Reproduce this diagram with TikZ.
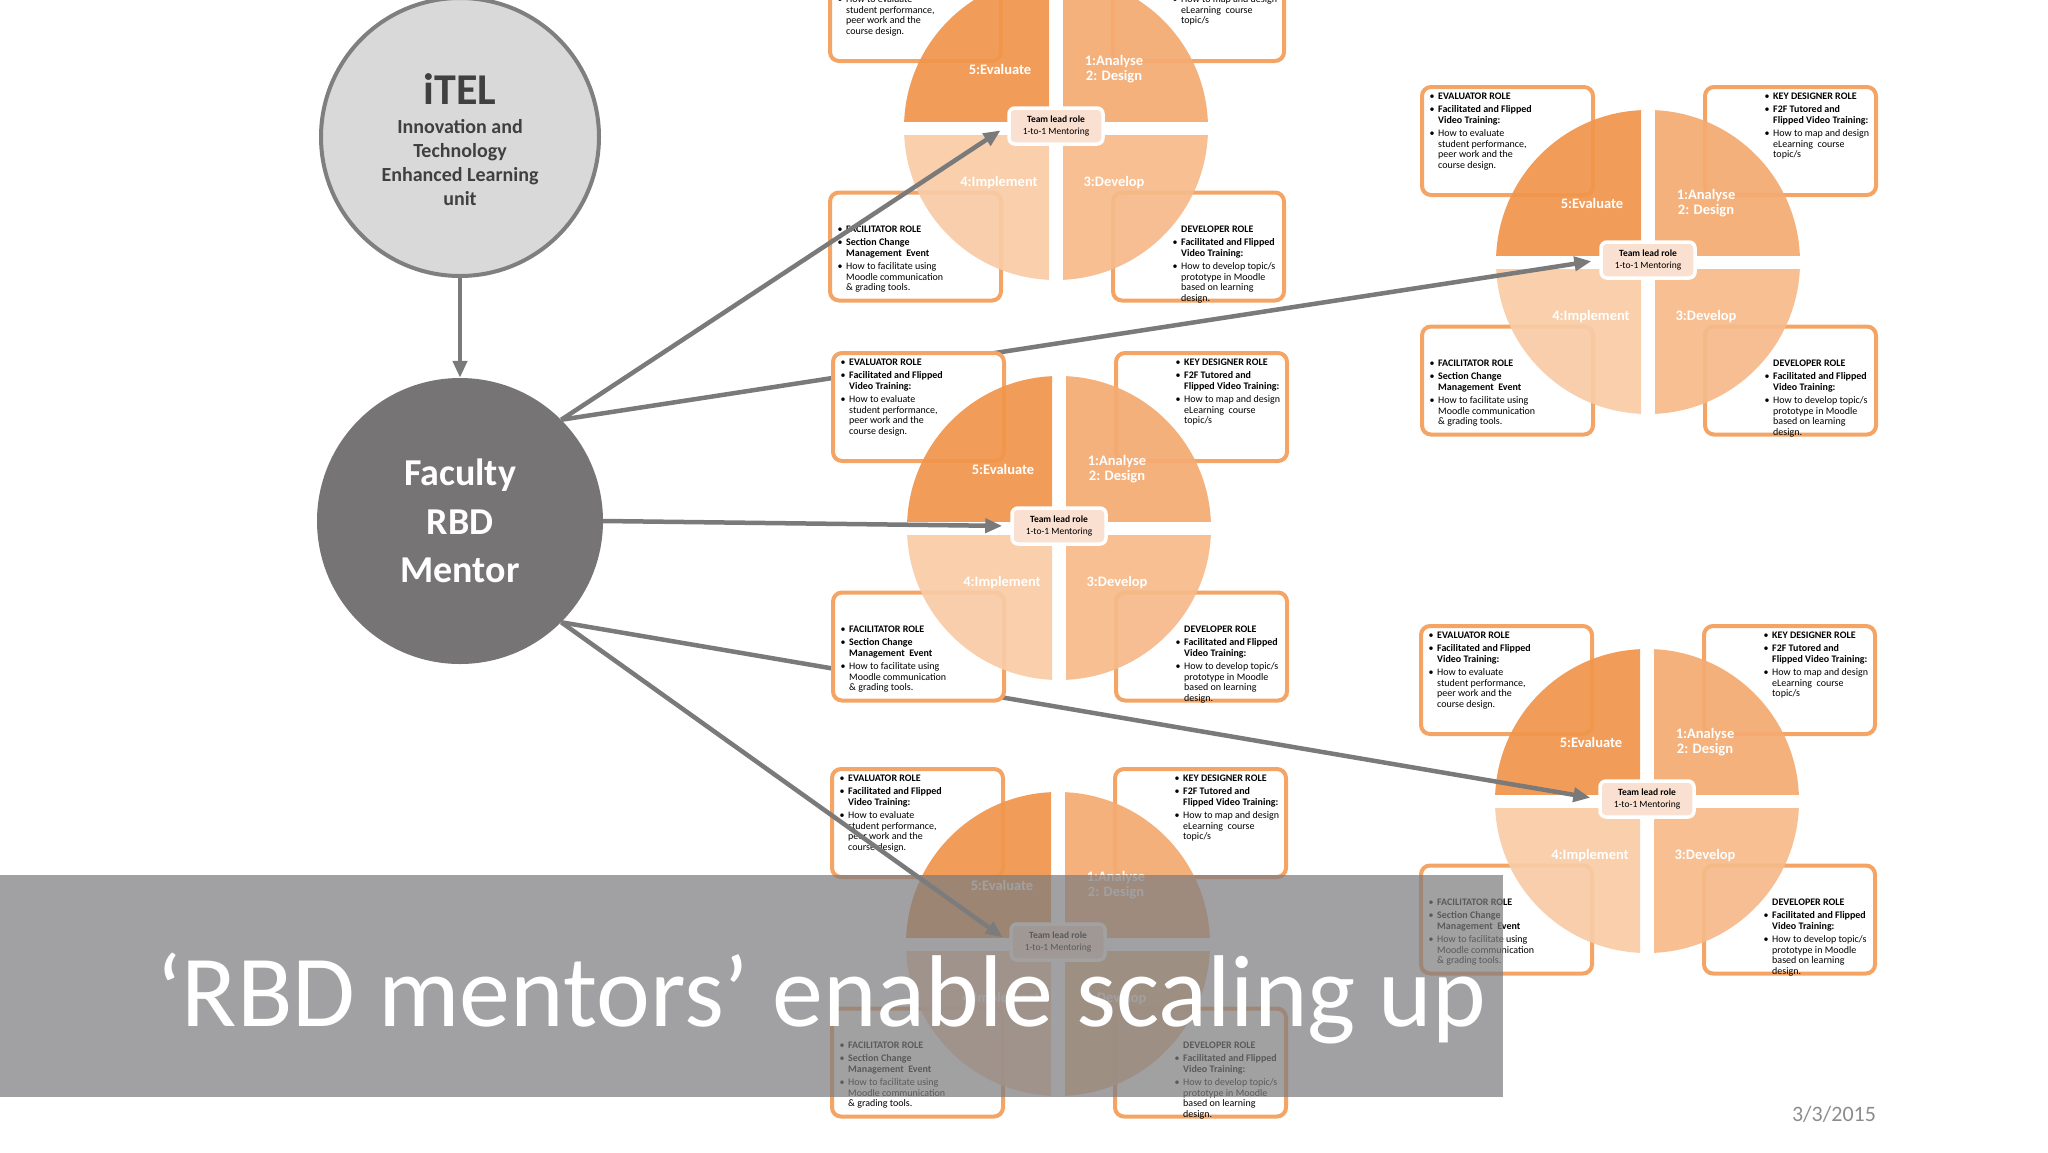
\documentclass[tikz,border=0pt]{standalone}
\usepackage{fontspec}
\setmainfont{Carlito}
\usepackage{tikz}
\usetikzlibrary{arrows.meta}
\definecolor{itelgrey}{RGB}{217,217,217}
\definecolor{ringgrey}{RGB}{127,127,127}
\definecolor{facgrey}{RGB}{118,116,116}
\definecolor{inkgrey}{RGB}{64,64,64}
\definecolor{linkgrey}{RGB}{122,122,122}
\definecolor{roleorange}{RGB}{244,164,100}
\definecolor{evalorange}{RGB}{241,149,76}
\definecolor{designorange}{RGB}{244,171,114}
\definecolor{devorange}{RGB}{246,186,138}
\definecolor{implorange}{RGB}{249,203,166}
\definecolor{hubpeach}{RGB}{250,224,208}
\definecolor{bargrey}{RGB}{125,125,127}
\definecolor{dategrey}{RGB}{140,140,140}
\tikzset{%
    itelcircle/.style={circle, draw=ringgrey, line width=4pt, fill=itelgrey, minimum size=278pt, inner sep=0pt},
    itelname/.style={text=inkgrey, font=\fontsize{44}{44}\selectfont\bfseries, inner sep=0pt},
    itelsub/.style={text=inkgrey, font=\fontsize{20}{24}\selectfont\bfseries, align=center, inner sep=0pt},
    mentorcircle/.style={circle, fill=facgrey, minimum size=286pt, inner sep=0pt, text=white,
        font=\fontsize{38}{48.5}\selectfont\bfseries, align=center},
    rolebox/.style={draw=roleorange, line width=4pt, fill=white, rounded corners=9pt,
        minimum width=171pt, minimum height=108pt, inner sep=0pt},
    roletext/.style={anchor=north west, inner sep=0pt, align=left, font=\fontsize{10}{10.6}\selectfont},
    phaselabel/.style={text=white, font=\fontsize{14.5}{15}\selectfont\bfseries, align=center, inner sep=0pt},
    hubbox/.style={draw=white, line width=3.5pt, fill=hubpeach, rounded corners=6pt, minimum width=94pt,
        minimum height=36pt, inner sep=0pt, align=center, font=\fontsize{9.5}{12}\selectfont},
    mainlink/.style={draw=linkgrey, line width=4.5pt, -{Triangle[length=17pt,width=14pt]}},
    feedlink/.style={mainlink, shorten >=8pt},
    captionbar/.style={fill=bargrey, fill opacity=0.72},
    captiontext/.style={anchor=base west, text=white, font=\fontsize{102}{110}\selectfont, inner sep=0pt},
    datetext/.style={text=dategrey, font=\fontsize{22}{24}\selectfont, inner sep=0pt}
}
\newcommand\rbul{\makebox[8.5pt][l]{\textbullet}}
\newcommand\rind{\hspace*{8.5pt}}
% one RBD wheel: name, x, y of its hub
\newcommand\rbdwheel[3]{%
\begin{scope}[shift={(#2,#3)}]
    \node[rolebox] (#1-eval) at (-140.5,-121) {};
    \node[rolebox] (#1-key) at (142.5,-121) {};
    \node[rolebox] (#1-fac) at (-140.5,118.5) {};
    \node[rolebox] (#1-dev) at (142.5,118.5) {};
    \node[roletext] (#1-evaltext) at (-218.5,-169) {\rbul\textbf{EVALUATOR ROLE}\\[2.5pt]
        \rbul\textbf{Facilitated and Flipped}\\ \rind\textbf{Video Training:}\\[2.5pt]
        \rbul How to evaluate\\ \rind student performance,\\ \rind peer work and the\\ \rind course design.};
    \node[roletext] (#1-keytext) at (116.5,-169) {\rbul\textbf{KEY DESIGNER ROLE}\\[2.5pt]
        \rbul\textbf{F2F Tutored and}\\ \rind\textbf{Flipped Video Training:}\\[2.5pt]
        \rbul How to map and design\\ \rind eLearning\ \ course\\ \rind topic/s};
    \node[roletext] (#1-factext) at (-218.5,98) {\rbul\textbf{FACILITATOR ROLE}\\[2.5pt]
        \rbul\textbf{Section Change}\\ \rind\textbf{Management\ \ Event}\\[2.5pt]
        \rbul How to facilitate using\\ \rind Moodle communication\\ \rind \& grading tools.};
    \node[roletext] (#1-devtext) at (116.5,98) {\rind\textbf{DEVELOPER ROLE}\\[2.5pt]
        \rbul\textbf{Facilitated and Flipped}\\ \rind\textbf{Video Training:}\\[2.5pt]
        \rbul How to develop topic/s\\ \rind prototype in Moodle\\ \rind based on learning\\ \rind design.};
    \begin{scope}[fill opacity=0.93]
        \begin{scope}\clip (-7,-7) rectangle (-160,-160); \fill[evalorange] (0,0) circle[radius=152pt]; \end{scope}
        \begin{scope}\clip (7,-7) rectangle (160,-160); \fill[designorange] (0,0) circle[radius=152pt]; \end{scope}
        \begin{scope}\clip (7,7) rectangle (160,160); \fill[devorange] (0,0) circle[radius=152pt]; \end{scope}
        \begin{scope}\clip (-7,7) rectangle (-160,160); \fill[implorange] (0,0) circle[radius=152pt]; \end{scope}
    \end{scope}
    \node[phaselabel] (#1-evaluate) at (-56,-59) {5:Evaluate};
    \node[phaselabel] (#1-design) at (58,-59) {1:Analyse\\2: Design};
    \node[phaselabel] (#1-implement) at (-57,55) {4:Implement};
    \node[phaselabel] (#1-develop) at (58,55) {3:Develop};
    \node[hubbox] (#1-hub) at (0,-2) {\textbf{Team lead role}\\1-to-1 Mentoring};
\end{scope}}

\begin{document}
\begin{tikzpicture}[x=1pt,y=-1pt]
\useasboundingbox (0,0) rectangle (2048,1152);
\clip (0,0) rectangle (2048,1152);
\node[itelcircle] (itel) at (460,137) {};
\node[itelname] (itel-name) at (460,89) {iTEL};
\node[itelsub] (itel-sub) at (460,163) {Innovation and\\Technology\\Enhanced Learning\\unit};
\node[mentorcircle] (fac) at (460,521) {Faculty\\RBD\\Mentor};
% wheels that the links run over
\rbdwheel{A}{1056}{128}
\rbdwheel{C}{1058}{944}
\rbdwheel{D}{1648}{262}
\rbdwheel{E}{1647}{801}
\draw[mainlink] (itel) -- (fac);
\draw[feedlink] (fac.45) -- (A-hub.west);
\draw[feedlink] (fac.-45) -- (C-hub.west);
\draw[feedlink] (fac.45) -- (D-hub.west);
\draw[feedlink] (fac.-45) -- (E-hub.west);
% middle wheel hides the two long links
\rbdwheel{B}{1059}{528}
\draw[feedlink] (fac.east) -- (B-hub.west);
\fill[captionbar] (0,875) rectangle (1503,1097);
\node[captiontext] (caption) at (156,1026) {‘RBD mentors’ enable scaling up};
\node[datetext] (date) at (1834,1114) {3/3/2015};
\end{tikzpicture}
\end{document}
